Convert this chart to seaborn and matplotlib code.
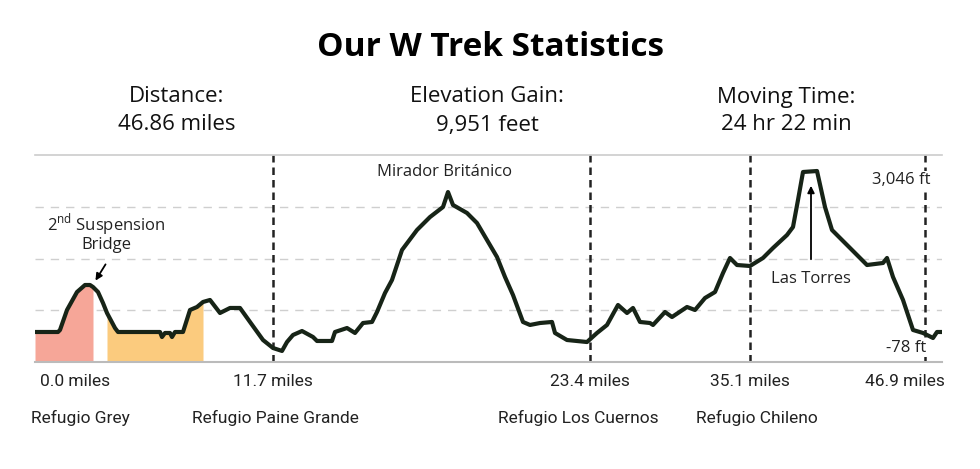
import numpy as np
import pandas as pd
import matplotlib
matplotlib.use("Agg")
import matplotlib.pyplot as plt
import seaborn as sns

# Elevation profile (x = position along the chart, elevation in ft)
track_pos = [0, 23, 25, 32, 42, 50, 55, 58, 63, 68, 72, 80, 83, 125, 127, 130, 135, 137, 140,
             148, 155, 162, 168, 175, 185, 195, 205, 215, 228, 238, 247, 252, 258, 267, 278,
             282, 297, 300, 312, 320, 328, 337, 342, 350, 357, 367, 382, 395, 408, 413, 418,
             432, 442, 452, 462, 470, 478, 488, 495, 505, 517, 520, 532, 552, 562, 572, 583,
             592, 598, 605, 615, 618, 630, 637, 652, 660, 670, 680, 688, 695, 702, 715, 728,
             738, 752, 758, 763, 768, 782, 790, 797, 805, 817, 832, 848, 852, 858, 868, 878,
             888, 898, 902, 907]
elevation_ft = [251, 251, 286, 633, 945, 1067, 1067, 1032, 945, 754, 581, 320, 251, 251, 164,
                234, 234, 164, 251, 251, 633, 685, 772, 807, 581, 668, 668, 425, 112, -27, -78,
                77, 199, 268, 164, 95, 95, 251, 320, 234, 407, 425, 598, 928, 1154, 1675, 2022,
                2247, 2421, 2681, 2456, 2317, 2143, 1848, 1553, 1206, 893, 425, 373, 407, 425,
                234, 112, 77, 234, 373, 720, 581, 668, 425, 407, 373, 598, 511, 685, 633, 841,
                945, 1275, 1536, 1414, 1397, 1536, 1709, 1935, 2074, 2543, 3029, 3046, 2421,
                2022, 1883, 1675, 1414, 1449, 1536, 1206, 807, 286, 234, 147, 251, 251]

# Shaded sections (start, end)
pink_section = (0, 58)
orange_section = (72, 168)

# Refugio markers
marker_pos = [238, 555, 715, 890]
mile_labels = ["0.0 miles", "11.7 miles", "23.4 miles", "35.1 miles", "46.9 miles"]
mile_label_pos = [40, 238, 555, 715, 870]
refugio_names = ["Refugio Grey", "Refugio Paine Grande", "Refugio Los Cuernos", "Refugio Chileno"]
refugio_pos = [45, 240, 543, 722]

stat_titles = ["Distance:", "Elevation Gain:", "Moving Time:"]
stat_values = ["46.86 miles", "9,951 feet", "24 hr 22 min"]

y_min, y_max = -270, 3324
line_color = "#172417"
pink = "#F6A698"
orange = "#FBCB7E"

sns.set_style("white")
plt.rcParams["font.family"] = ["Open Sans", "DejaVu Sans"]

df = pd.DataFrame({"pos": track_pos, "elev": elevation_ft})

fig = plt.figure(figsize=(9.8, 4.69), dpi=100)
ax = fig.add_axes([35 / 980, 107 / 469, 907 / 980, 207 / 469])

for (lo, hi), col in [(pink_section, pink), (orange_section, orange)]:
    sub = df[(df["pos"] >= lo) & (df["pos"] <= hi)]
    ax.fill_between(sub["pos"], sub["elev"], y_min, color=col, lw=0, zorder=1)

sns.lineplot(data=df, x="pos", y="elev", color=line_color, lw=3.0, ax=ax, zorder=3)

for p in marker_pos:
    ax.axvline(p, color="#222222", ls=(0, (3, 2)), lw=1.8, zorder=2)

ax.set_xlim(0, 907)
ax.set_ylim(y_min, y_max)
ax.set_yticks(np.linspace(y_min, y_max, 5)[1:-1])
ax.grid(axis="y", color="#cfcfcf", ls=(0, (6, 5)), lw=1)
ax.set_xticks([])
ax.set_yticklabels([])
ax.tick_params(left=False, bottom=False)
ax.set_xlabel("")
ax.set_ylabel("")
for side in ["left", "right"]:
    ax.spines[side].set_visible(False)
ax.spines["top"].set_color("#cccccc")
ax.spines["bottom"].set_color("#bbbbbb")
ax.spines["top"].set_linewidth(1.2)
ax.spines["bottom"].set_linewidth(1.5)

# annotations
txt_kw = dict(color="#222222", fontsize=12, ha="center", va="center")
ax.text(409, 3029, "Mirador Británico", **txt_kw)
ax.text(71, 2109, "2$^{\\mathregular{nd}}$ Suspension", **txt_kw)
ax.text(71, 1761, "Bridge", **txt_kw)
ax.annotate("", xy=(59, 1102), xytext=(72, 1466),
            arrowprops=dict(arrowstyle="-|>", color="black", lw=1.3, mutation_scale=10))
ax.text(776, 1171, "Las Torres", **txt_kw)
ax.annotate("", xy=(776, 2838), xytext=(776, 1466),
            arrowprops=dict(arrowstyle="-|>", color="black", lw=1.3, mutation_scale=10))
label_box = dict(facecolor="white", edgecolor="none", pad=1)
ax.text(895, 2890, "3,046 ft", color="#222222", fontsize=12, ha="right", va="center",
        bbox=label_box, zorder=4)
ax.text(891, -27, "-78 ft", color="#222222", fontsize=12, ha="right", va="center",
        bbox=label_box, zorder=4)

narrow = ["Roboto", "DejaVu Sans"]
tr = ax.get_xaxis_transform()
for p, lab in zip(mile_label_pos, mile_labels):
    ax.text(p, -0.095, lab, transform=tr, fontsize=12.5, ha="center", va="center",
            color="#222222", family=narrow)
for p, name in zip(refugio_pos, refugio_names):
    ax.text(p, -0.27, name, transform=tr, fontsize=12.5, ha="center", va="center",
            color="#222222", family=narrow)

# header
fig.text(0.5, 1 - 48 / 469, "Our W Trek Statistics", ha="center", va="center",
         fontsize=24, fontweight="bold", color="black")
for xc, t, v in zip([177, 487, 786], stat_titles, stat_values):
    fig.text(xc / 980, 1 - 97 / 469, t, ha="center", va="center", fontsize=16, color="#111111")
    fig.text(xc / 980, 1 - 125 / 469, v, ha="center", va="center", fontsize=16, color="#111111")

fig.savefig("out.png", dpi=100, facecolor="white")
